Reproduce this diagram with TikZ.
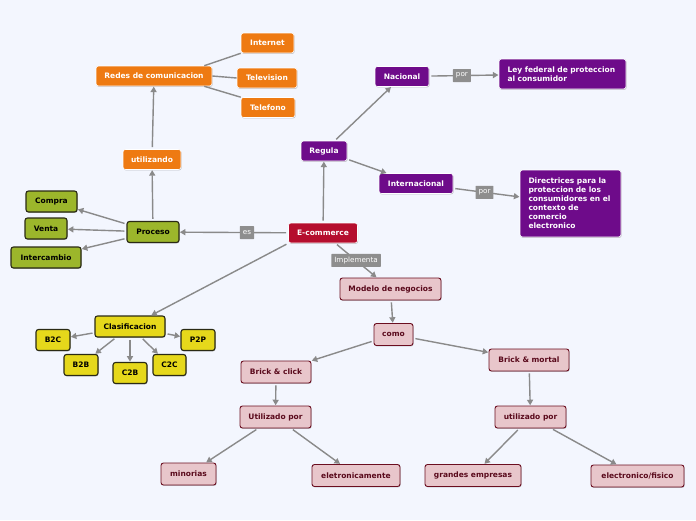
\documentclass[tikz,border=0pt]{standalone}
\usepackage{fontspec}
\newfontfamily\dv{DejaVu Sans}
\usetikzlibrary{arrows.meta,shadows}
\definecolor{bgc}{HTML}{F3F6FE}
\definecolor{orangec}{HTML}{EE7A12}
\definecolor{purplec}{HTML}{6E0B8A}
\definecolor{redc}{HTML}{B50E2E}
\definecolor{greenc}{HTML}{9CB62B}
\definecolor{yellowc}{HTML}{E6D81B}
\definecolor{pinkc}{HTML}{E8C6CB}
\definecolor{pinkb}{HTML}{6B0E20}
\definecolor{pinkt}{HTML}{5A0A1C}
\definecolor{darkb}{HTML}{2A2A14}
\definecolor{labc}{HTML}{8E8E8E}
\definecolor{linec}{HTML}{8A8A8A}
\tikzset{
  base/.style={rounded corners=2.5pt, inner sep=0pt, minimum height=20pt, align=center,
    font=\dv\bfseries\fontsize{7.5}{9}\selectfont,
    drop shadow={shadow xshift=0.6pt,shadow yshift=-0.9pt,fill=black,opacity=0.22}},
  orangebox/.style={base, fill=orangec, draw=white, line width=0.6pt, text=white},
  purplebox/.style={base, fill=purplec, draw=white, line width=0.6pt, text=white},
  redbox/.style={base, fill=redc, draw=white, line width=0.6pt, text=white},
  greenbox/.style={base, fill=greenc, draw=darkb, line width=1.1pt, text=black, minimum height=21pt},
  yellowbox/.style={base, fill=yellowc, draw=darkb, line width=1.1pt, text=black, minimum height=21pt},
  pinkbox/.style={base, fill=pinkc, draw=pinkb, line width=0.9pt, text=pinkt, minimum height=22pt},
  lab/.style={fill=labc, text=white, inner xsep=3pt, inner ysep=1pt, minimum height=13pt,
    rounded corners=0.5pt, font=\dv\fontsize{7.2}{8}\selectfont},
  conn/.style={draw=linec, line width=1.4pt},
  arr/.style={conn, -{Triangle[length=5.5pt,width=6pt]}, shorten >=0.3pt, shorten <=2pt},
}
\begin{document}
\begin{tikzpicture}[x=1pt,y=-1pt]
\fill[bgc] (0,0) rectangle (696,520);
\useasboundingbox (0,0) rectangle (696,520);

% orange
\node[orangebox, minimum width=116pt] (redes) at (154,76) {Redes de comunicacion};
\node[orangebox, minimum width=53pt] (internet) at (267.5,43) {Internet};
\node[orangebox, minimum width=60pt] (tele) at (267,78) {Television};
\node[orangebox, minimum width=54pt] (telef) at (268,107.5) {Telefono};
\node[orangebox, minimum width=58pt] (util) at (152,159.5) {utilizando};

% purple
\node[purplebox, minimum width=46pt] (regula) at (324,151) {Regula};
\node[purplebox, minimum width=54pt] (nacional) at (402,76.5) {Nacional};
\node[purplebox, minimum width=74pt] (inter) at (416,183.5) {Internacional};
\node[purplebox, minimum height=30pt, text width=110pt, inner xsep=8.5pt, align=left] (ley) at (562.5,74) {Ley federal de proteccion\\al consumidor};
\node[purplebox, minimum height=67pt, text width=84pt, inner xsep=8.5pt, align=left] (direc) at (570.5,203.5) {Directrices para la\\proteccion de los\\consumidores en el\\contexto de\\comercio\\electronico};

% red
\node[redbox, minimum width=69pt] (ecom) at (323,233) {E-commerce};

% green
\node[greenbox, minimum width=52pt] (proceso) at (153,232) {Proceso};
\node[greenbox, minimum width=51pt] (compra) at (51.5,201.5) {Compra};
\node[greenbox, minimum width=42pt] (venta) at (46,228.5) {Venta};
\node[greenbox, minimum width=70pt] (interc) at (46,257.5) {Intercambio};

% yellow
\node[yellowbox, minimum width=70pt] (clasif) at (130,326.5) {Clasificacion};
\node[yellowbox, minimum width=34pt] (b2c) at (53,340) {B2C};
\node[yellowbox, minimum width=34pt] (b2b) at (81,365) {B2B};
\node[yellowbox, minimum width=34pt] (c2b) at (130,373) {C2B};
\node[yellowbox, minimum width=33pt] (c2c) at (169.5,365) {C2C};
\node[yellowbox, minimum width=34pt] (p2p) at (198,340) {P2P};

% pink
\node[pinkbox, minimum width=101pt] (modelo) at (390.5,289) {Modelo de negocios};
\node[pinkbox, minimum width=39pt] (como) at (393.5,334.5) {como};
\node[pinkbox, minimum width=70pt] (bclick) at (276,372) {Brick \& click};
\node[pinkbox, minimum width=80pt] (bmortal) at (529,360) {Brick \& mortal};
\node[pinkbox, minimum width=71pt] (utilA) at (275.5,417) {Utilizado por};
\node[pinkbox, minimum width=71pt] (utilB) at (530.5,417) {utilizado por};
\node[pinkbox, minimum width=55pt] (minor) at (188.5,474) {minorias};
\node[pinkbox, minimum width=88pt] (eletr) at (356,475.5) {eletronicamente};
\node[pinkbox, minimum width=96pt] (grandes) at (473,475.5) {grandes empresas};
\node[pinkbox, minimum width=93pt] (elfis) at (637.5,476) {electronico/fisico};

% connectors
\draw[conn] ([xshift=-8pt]redes.north east) -- (internet.south west);
\draw[conn] (redes.east) -- (tele.west);
\draw[conn] ([xshift=-8pt]redes.south east) -- (telef.north west);
\draw[arr] (util) -- (redes);
\draw[arr] (proceso) -- (util);
\draw[arr] (ecom) -- node[lab, pos=0.38] (les) {es} (proceso);
\draw[arr] (proceso) -- (compra);
\draw[arr] (proceso) -- (venta);
\draw[arr] (proceso) -- (interc);
\draw[arr] (ecom) -- (regula);
\draw[arr] (regula) -- (nacional);
\draw[arr] (regula) -- (inter);
\draw[arr] (nacional) -- node[lab, pos=0.47] (lpor1) {por} (ley);
\draw[arr] (inter) -- node[lab, pos=0.47] (lpor2) {por} (direc);
\draw[arr] (ecom) -- node[lab, pos=0.5] (limp) {Implementa} (modelo);
\draw[arr] (ecom.south west) -- (clasif);
\draw[arr] (clasif) -- (b2c);
\draw[arr] (clasif) -- (b2b);
\draw[arr] (clasif) -- (c2b);
\draw[arr] (clasif) -- (c2c);
\draw[arr] (clasif) -- (p2p);
\draw[arr] (modelo) -- (como);
\draw[arr] (como) -- (bclick);
\draw[arr] (como) -- (bmortal);
\draw[arr] (bclick) -- (utilA);
\draw[arr] (bmortal) -- (utilB);
\draw[arr] (utilA) -- (minor);
\draw[arr] (utilA) -- (eletr);
\draw[arr] (utilB) -- (grandes);
\draw[arr] (utilB) -- (elfis);
\end{tikzpicture}
\end{document}
